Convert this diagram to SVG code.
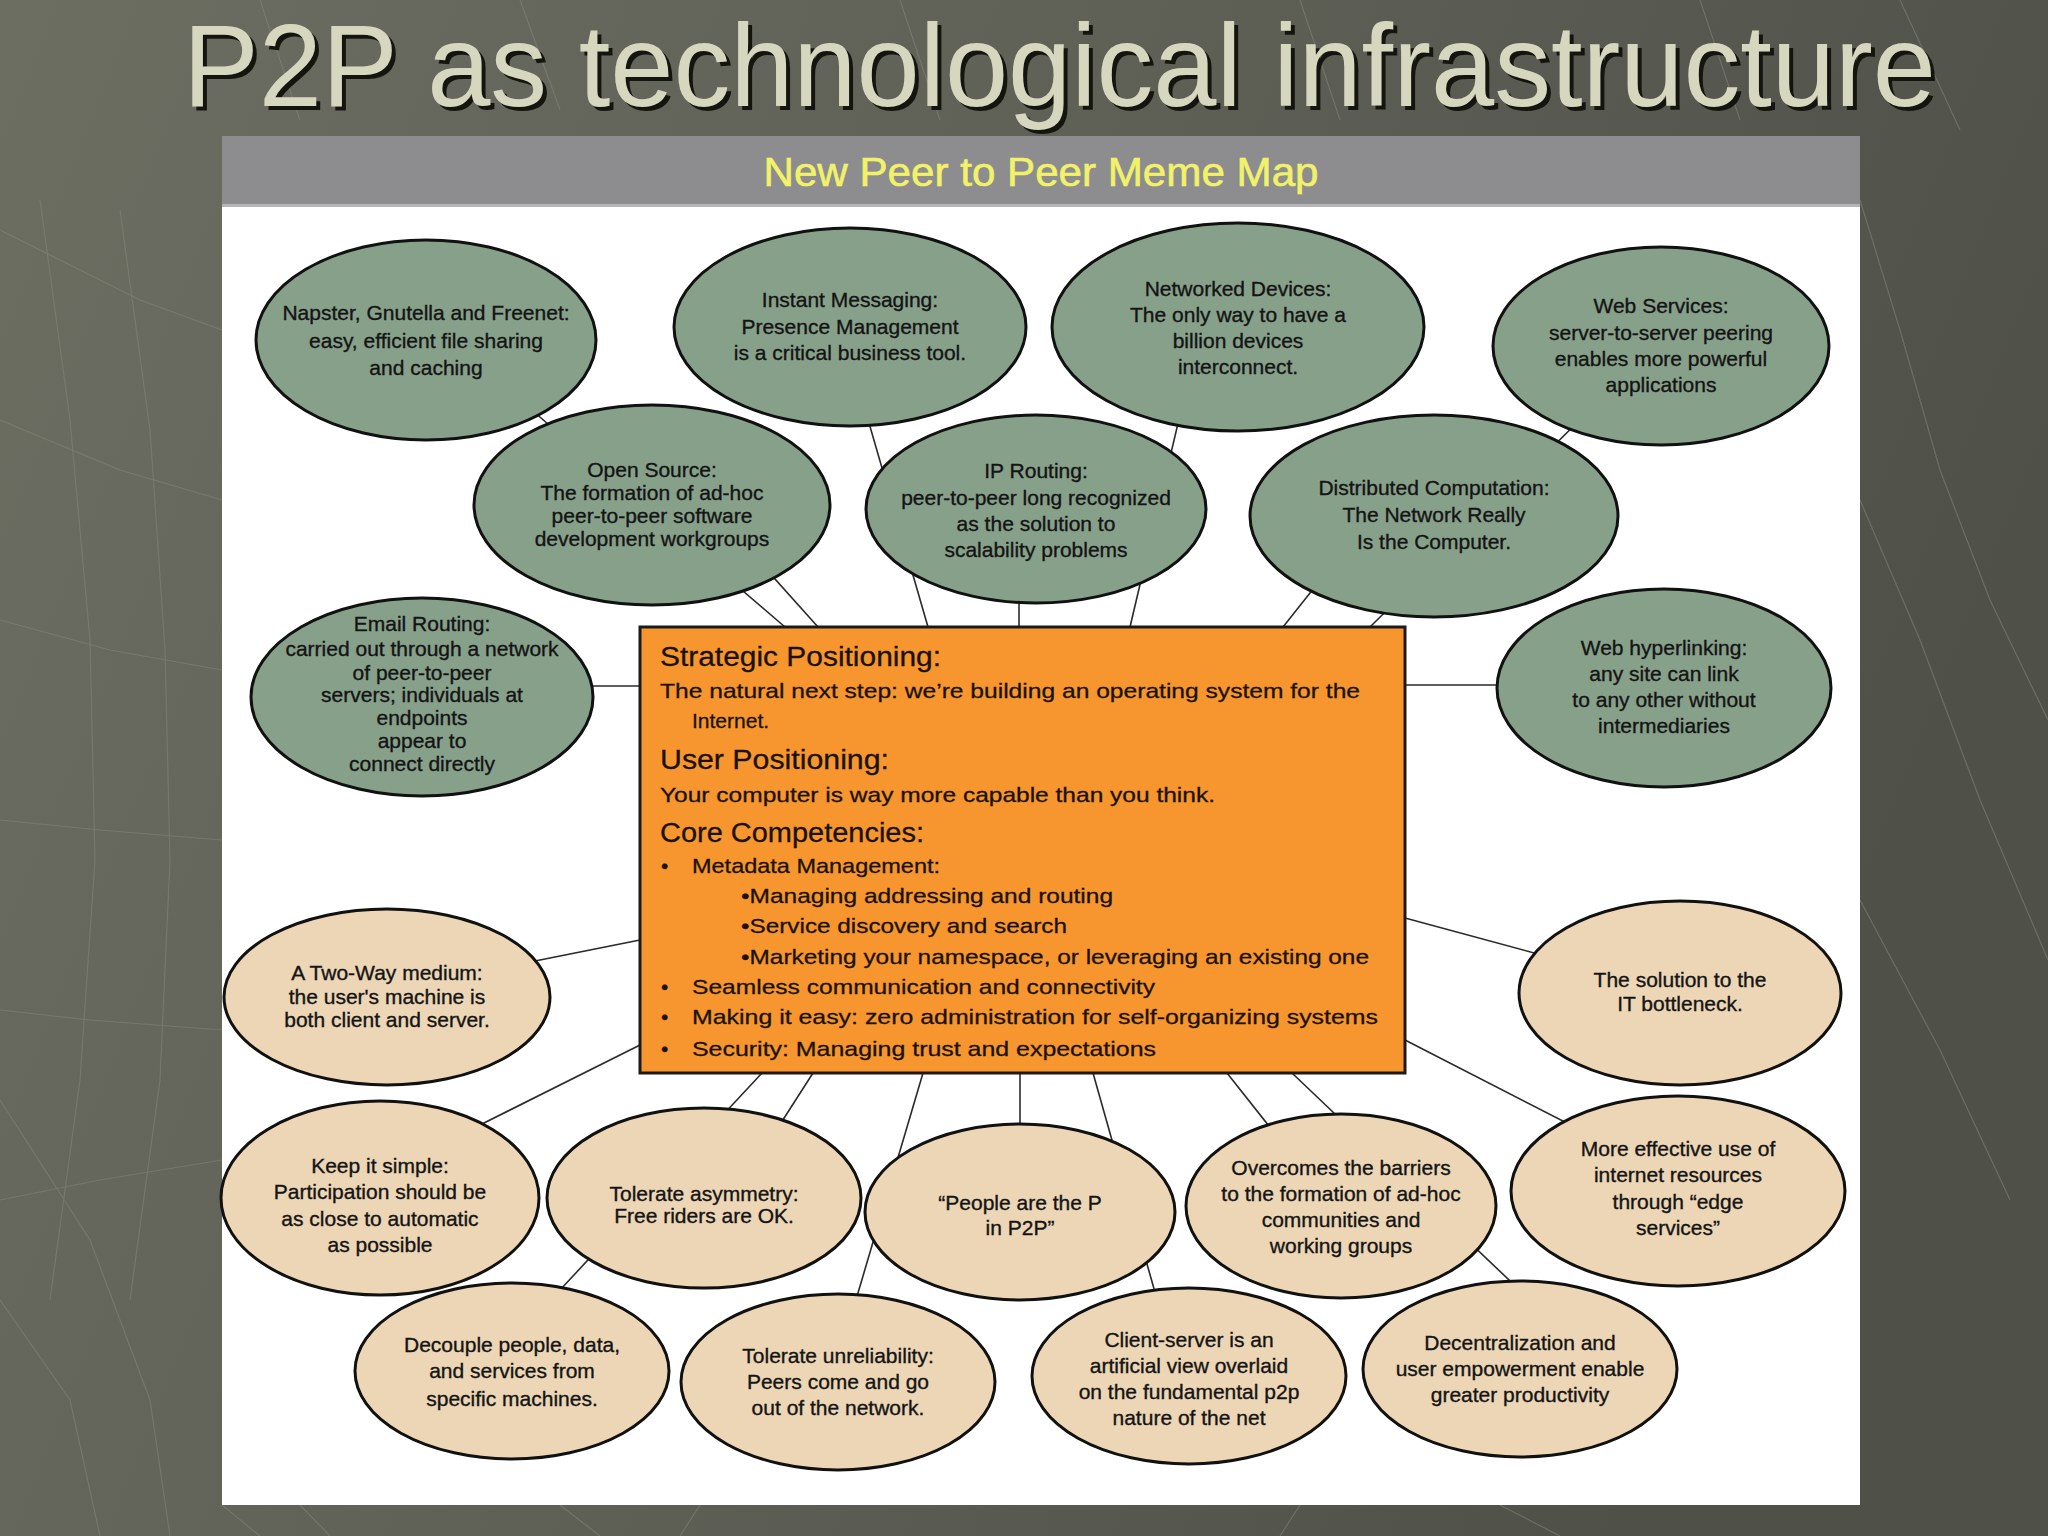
<svg xmlns="http://www.w3.org/2000/svg" width="2048" height="1536" viewBox="0 0 2048 1536">
<defs>
<linearGradient id="bg" x1="0" y1="0" x2="1" y2="0.3">
<stop offset="0" stop-color="#6d6e62"/>
<stop offset="0.5" stop-color="#5f6056"/>
<stop offset="1" stop-color="#4f5048"/>
</linearGradient>
<style>
.t{font-family:"Liberation Sans",Arial,sans-serif;font-size:21px;fill:#141414;stroke:#141414;stroke-width:0.35;text-anchor:middle}
.g{fill:#87a08a;stroke:#111;stroke-width:3}
.n{fill:#ecd6b6;stroke:#111;stroke-width:3}
.c{stroke:#2a2a2a;stroke-width:1.6;fill:none}
.b{font-family:"Liberation Sans",Arial,sans-serif;fill:#1a1208;stroke:#1a1208;stroke-width:0.3}
.h{font-size:27px}
.s{font-size:21px}
.deco{stroke:#85867a;stroke-width:1.2;fill:none;opacity:0.55}
</style>
</defs>
<rect x="0" y="0" width="2048" height="1536" fill="url(#bg)"/>
<g id="background-decoration" class="deco">
<path d="M0 230 L140 300 L222 330 M0 420 L120 470 L222 500 M0 620 L110 650 L222 670 M0 820 L100 830 L222 840 M0 1010 L90 1020 L222 1030 M0 1200 L100 1180 L222 1160"/>
<path d="M40 200 L70 420 L90 640 L95 860 L80 1080 L50 1300 M120 210 L150 430 L165 650 L170 860 L160 1080 L130 1300"/>
<path d="M0 1100 L90 1240 L150 1400 L170 1536 M0 1300 L70 1400 L100 1536 M222 1505 L260 1536 M300 1505 L330 1536 M560 1505 L600 1536 M700 1505 L680 1536 M1300 1505 L1280 1536 M1500 1505 L1560 1536"/>
<path d="M1860 200 L1900 330 L1940 470 L1990 600 L2048 720 M1860 500 L1920 640 L1980 800 L2048 960 M1860 900 L1940 1050 L2010 1200"/>
<path d="M260 0 L300 120 M520 0 L560 110 M900 0 L940 120 M1300 0 L1340 120 M1700 0 L1740 120 M1900 0 L1960 130"/>
</g>
<g id="title">
<text x="187" y="110" font-family="Liberation Sans,Arial,sans-serif" font-size="116" fill="#15150f" textLength="1753" lengthAdjust="spacingAndGlyphs">P2P as technological infrastructure</text>
<text x="183" y="106" font-family="Liberation Sans,Arial,sans-serif" font-size="116" fill="#d6d7bf" textLength="1753" lengthAdjust="spacingAndGlyphs">P2P as technological infrastructure</text>
</g>
<g id="panel">
<rect x="222" y="136" width="1638" height="1369" fill="#ffffff"/>
<rect x="222" y="136" width="1638" height="70" fill="#8d8d8f"/>
<rect x="222" y="204" width="1638" height="3" fill="#b5b5b7"/>
<text x="1041" y="186" font-family="Liberation Sans,Arial,sans-serif" font-size="40" fill="#f2f26a" stroke="#f2f26a" stroke-width="0.6" text-anchor="middle" textLength="555" lengthAdjust="spacingAndGlyphs">New Peer to Peer Meme Map</text>
</g>
<g id="connectors" class="c">
<line x1="785" y1="627" x2="520" y2="400"/>
<line x1="818" y1="627" x2="740" y2="540"/>
<line x1="928" y1="627" x2="845" y2="340"/>
<line x1="1019" y1="627" x2="1019" y2="560"/>
<line x1="1130" y1="627" x2="1200" y2="330"/>
<line x1="1283" y1="627" x2="1360" y2="530"/>
<line x1="1370" y1="627" x2="1600" y2="400"/>
<line x1="1405" y1="685" x2="1520" y2="685"/>
<line x1="560" y1="686" x2="640" y2="686"/>
<line x1="640" y1="940" x2="520" y2="964"/>
<line x1="1405" y1="918" x2="1560" y2="960"/>
<line x1="640" y1="1045" x2="470" y2="1130"/>
<line x1="762" y1="1073" x2="560" y2="1290"/>
<line x1="813" y1="1073" x2="770" y2="1140"/>
<line x1="923" y1="1073" x2="850" y2="1320"/>
<line x1="1020" y1="1073" x2="1020" y2="1140"/>
<line x1="1093" y1="1073" x2="1160" y2="1310"/>
<line x1="1227" y1="1073" x2="1280" y2="1140"/>
<line x1="1292" y1="1073" x2="1530" y2="1300"/>
<line x1="1405" y1="1040" x2="1600" y2="1140"/>
</g>
<g id="napster"><ellipse class="g" cx="426" cy="340" rx="170" ry="100"/>
<text class="t"><tspan x="426" y="320">Napster, Gnutella and Freenet:</tspan><tspan x="426" y="348">easy, efficient file sharing</tspan><tspan x="426" y="375">and caching</tspan></text></g>
<g id="instant-messaging"><ellipse class="g" cx="850" cy="327" rx="176" ry="99"/>
<text class="t"><tspan x="850" y="307">Instant Messaging:</tspan><tspan x="850" y="334">Presence Management</tspan><tspan x="850" y="360">is a critical business tool.</tspan></text></g>
<g id="networked-devices"><ellipse class="g" cx="1238" cy="327" rx="186" ry="104"/>
<text class="t"><tspan x="1238" y="296">Networked Devices:</tspan><tspan x="1238" y="322">The only way to have a</tspan><tspan x="1238" y="348">billion devices</tspan><tspan x="1238" y="374">interconnect.</tspan></text></g>
<g id="web-services"><ellipse class="g" cx="1661" cy="346" rx="168" ry="99"/>
<text class="t"><tspan x="1661" y="313">Web Services:</tspan><tspan x="1661" y="340">server-to-server peering</tspan><tspan x="1661" y="366">enables more powerful</tspan><tspan x="1661" y="392">applications</tspan></text></g>
<g id="open-source"><ellipse class="g" cx="652" cy="505" rx="178" ry="100"/>
<text class="t"><tspan x="652" y="477">Open Source:</tspan><tspan x="652" y="500">The formation of ad-hoc</tspan><tspan x="652" y="523">peer-to-peer software</tspan><tspan x="652" y="546">development workgroups</tspan></text></g>
<g id="ip-routing"><ellipse class="g" cx="1036" cy="509" rx="170" ry="94"/>
<text class="t"><tspan x="1036" y="478">IP Routing:</tspan><tspan x="1036" y="505">peer-to-peer long recognized</tspan><tspan x="1036" y="531">as the solution to</tspan><tspan x="1036" y="557">scalability problems</tspan></text></g>
<g id="distributed-computation"><ellipse class="g" cx="1434" cy="516" rx="184" ry="101"/>
<text class="t"><tspan x="1434" y="495">Distributed Computation:</tspan><tspan x="1434" y="522">The Network Really</tspan><tspan x="1434" y="549">Is the Computer.</tspan></text></g>
<g id="email-routing"><ellipse class="g" cx="422" cy="697" rx="171" ry="99"/>
<text class="t"><tspan x="422" y="631">Email Routing:</tspan><tspan x="422" y="656">carried out through a network</tspan><tspan x="422" y="680">of peer-to-peer</tspan><tspan x="422" y="702">servers; individuals at</tspan><tspan x="422" y="725">endpoints</tspan><tspan x="422" y="748">appear to</tspan><tspan x="422" y="771">connect directly</tspan></text></g>
<g id="web-hyperlinking"><ellipse class="g" cx="1664" cy="688" rx="167" ry="99"/>
<text class="t"><tspan x="1664" y="655">Web hyperlinking:</tspan><tspan x="1664" y="681">any site can link</tspan><tspan x="1664" y="707">to any other without</tspan><tspan x="1664" y="733">intermediaries</tspan></text></g>
<g id="two-way"><ellipse class="n" cx="387" cy="997" rx="163" ry="88"/>
<text class="t"><tspan x="387" y="980">A Two-Way medium:</tspan><tspan x="387" y="1004">the user's machine is</tspan><tspan x="387" y="1027">both client and server.</tspan></text></g>
<g id="it-bottleneck"><ellipse class="n" cx="1680" cy="993" rx="161" ry="92"/>
<text class="t"><tspan x="1680" y="987">The solution to the</tspan><tspan x="1680" y="1011">IT bottleneck.</tspan></text></g>
<g id="keep-simple"><ellipse class="n" cx="380" cy="1198" rx="159" ry="97"/>
<text class="t"><tspan x="380" y="1173">Keep it simple:</tspan><tspan x="380" y="1199">Participation should be</tspan><tspan x="380" y="1226">as close to automatic</tspan><tspan x="380" y="1252">as possible</tspan></text></g>
<g id="tolerate-asymmetry"><ellipse class="n" cx="704" cy="1198" rx="157" ry="90"/>
<text class="t"><tspan x="704" y="1201">Tolerate asymmetry:</tspan><tspan x="704" y="1223">Free riders are OK.</tspan></text></g>
<g id="people-p2p"><ellipse class="n" cx="1020" cy="1212" rx="155" ry="88"/>
<text class="t"><tspan x="1020" y="1210">“People are the P</tspan><tspan x="1020" y="1235">in P2P”</tspan></text></g>
<g id="overcomes-barriers"><ellipse class="n" cx="1341" cy="1206" rx="155" ry="92"/>
<text class="t"><tspan x="1341" y="1175">Overcomes the barriers</tspan><tspan x="1341" y="1201">to the formation of ad-hoc</tspan><tspan x="1341" y="1227">communities and</tspan><tspan x="1341" y="1253">working groups</tspan></text></g>
<g id="edge-services"><ellipse class="n" cx="1678" cy="1191" rx="167" ry="95"/>
<text class="t"><tspan x="1678" y="1156">More effective use of</tspan><tspan x="1678" y="1182">internet resources</tspan><tspan x="1678" y="1209">through “edge</tspan><tspan x="1678" y="1235">services”</tspan></text></g>
<g id="decouple"><ellipse class="n" cx="512" cy="1371" rx="157" ry="88"/>
<text class="t"><tspan x="512" y="1352">Decouple people, data,</tspan><tspan x="512" y="1378">and services from</tspan><tspan x="512" y="1406">specific machines.</tspan></text></g>
<g id="tolerate-unreliability"><ellipse class="n" cx="838" cy="1382" rx="157" ry="88"/>
<text class="t"><tspan x="838" y="1363">Tolerate unreliability:</tspan><tspan x="838" y="1389">Peers come and go</tspan><tspan x="838" y="1415">out of the network.</tspan></text></g>
<g id="client-server"><ellipse class="n" cx="1189" cy="1376" rx="157" ry="88"/>
<text class="t"><tspan x="1189" y="1347">Client-server is an</tspan><tspan x="1189" y="1373">artificial view  overlaid</tspan><tspan x="1189" y="1399">on the fundamental p2p</tspan><tspan x="1189" y="1425">nature of the net</tspan></text></g>
<g id="decentralization"><ellipse class="n" cx="1520" cy="1369" rx="157" ry="88"/>
<text class="t"><tspan x="1520" y="1350">Decentralization and</tspan><tspan x="1520" y="1376">user empowerment enable</tspan><tspan x="1520" y="1402">greater productivity</tspan></text></g>
<g id="center-box">
<rect x="640" y="627" width="765" height="446" fill="#f7962f" stroke="#1a1a1a" stroke-width="3"/>
<text class="b h" x="660" y="666" textLength="281" lengthAdjust="spacingAndGlyphs">Strategic Positioning:</text>
<text class="b s" x="660" y="698" textLength="700" lengthAdjust="spacingAndGlyphs">The natural next step: we’re building an operating system for the</text>
<text class="b s" x="692" y="728">Internet.</text>
<text class="b h" x="660" y="769" textLength="229" lengthAdjust="spacingAndGlyphs">User Positioning:</text>
<text class="b s" x="660" y="802" textLength="555" lengthAdjust="spacingAndGlyphs">Your computer is way more capable than you think.</text>
<text class="b h" x="660" y="842" textLength="264" lengthAdjust="spacingAndGlyphs">Core Competencies:</text>
<text class="b s" x="661" y="873">•</text>
<text class="b s" x="692" y="873" textLength="248" lengthAdjust="spacingAndGlyphs">Metadata Management:</text>
<text class="b s" x="741" y="903" textLength="372" lengthAdjust="spacingAndGlyphs">•Managing addressing and routing</text>
<text class="b s" x="741" y="933" textLength="326" lengthAdjust="spacingAndGlyphs">•Service discovery and search</text>
<text class="b s" x="741" y="964" textLength="628" lengthAdjust="spacingAndGlyphs">•Marketing your namespace, or leveraging an existing one</text>
<text class="b s" x="661" y="994">•</text>
<text class="b s" x="692" y="994" textLength="463" lengthAdjust="spacingAndGlyphs">Seamless communication and connectivity</text>
<text class="b s" x="661" y="1024">•</text>
<text class="b s" x="692" y="1024" textLength="686" lengthAdjust="spacingAndGlyphs">Making it easy:  zero administration for self-organizing systems</text>
<text class="b s" x="661" y="1056">•</text>
<text class="b s" x="692" y="1056" textLength="464" lengthAdjust="spacingAndGlyphs">Security:  Managing trust and expectations</text>
</g>
</svg>
